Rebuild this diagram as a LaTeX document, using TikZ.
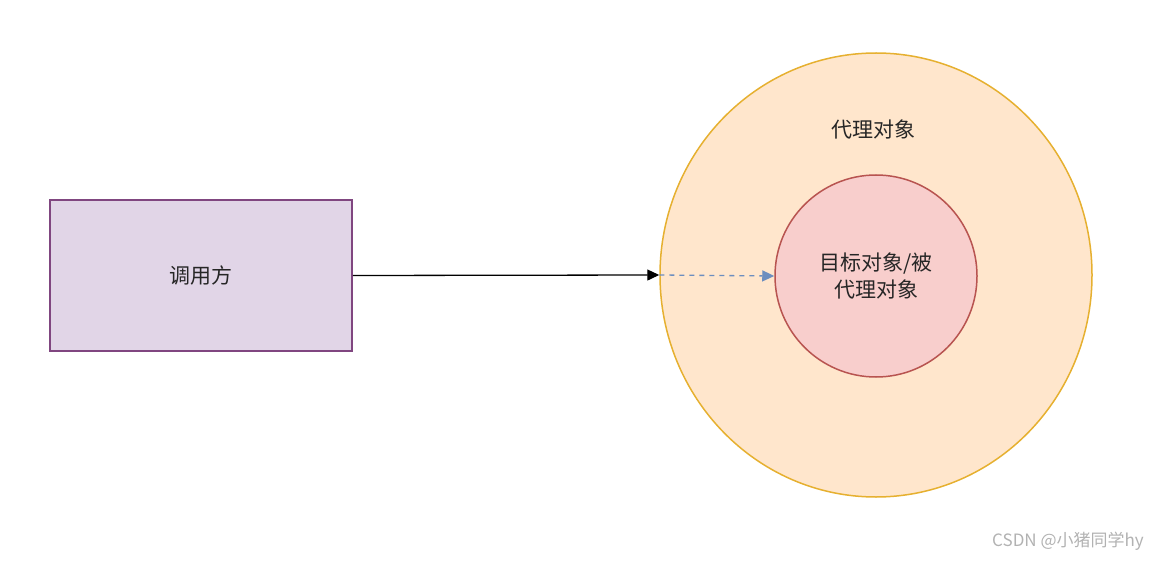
\documentclass[tikz,border=0pt]{standalone}
\usepackage{fontspec}
\setmainfont{Noto Sans CJK SC}
\usetikzlibrary{arrows.meta,shapes.geometric}
\begin{document}
\begin{tikzpicture}[x=1pt,y=-1pt,
  lbl/.style={font=\fontsize{21}{27}\selectfont, text=black!85, align=center},
  conn/.style={-{Triangle[length=12pt,width=11pt]}, line width=1.3pt}]
\useasboundingbox (0,0) rectangle (1169,561);
\node[draw=violet!45!gray, fill={rgb,255:red,225;green,213;blue,231}, line width=1.5pt, minimum width=302pt, minimum height=151pt, lbl] (caller) at (201,275.5) {调用方};
\node[draw={rgb,255:red,230;green,176;blue,48}, fill={rgb,255:red,255;green,230;blue,204}, line width=1.5pt, ellipse, minimum width=432pt, minimum height=444pt, inner sep=0pt] (proxy) at (876,275) {};
\node[draw={rgb,255:red,184;green,84;blue,80}, fill={rgb,255:red,248;green,206;blue,204}, line width=1.5pt, circle, minimum size=202pt, inner sep=0pt, lbl] (target) at (876,276) {目标对象/被\\代理对象};
\node[lbl] (ptitle) at (873,130) {代理对象};
\draw[conn] (caller.east) -- (proxy.west);
\draw[conn, dash pattern=on 5pt off 5pt, color={rgb,255:red,108;green,142;blue,191}] (proxy.west) -- (target.west);
\node[font=\fontsize{17}{20}\selectfont, text=black!30] (wm) at (1068,541) {CSDN @小猪同学hy};
\end{tikzpicture}
\end{document}
